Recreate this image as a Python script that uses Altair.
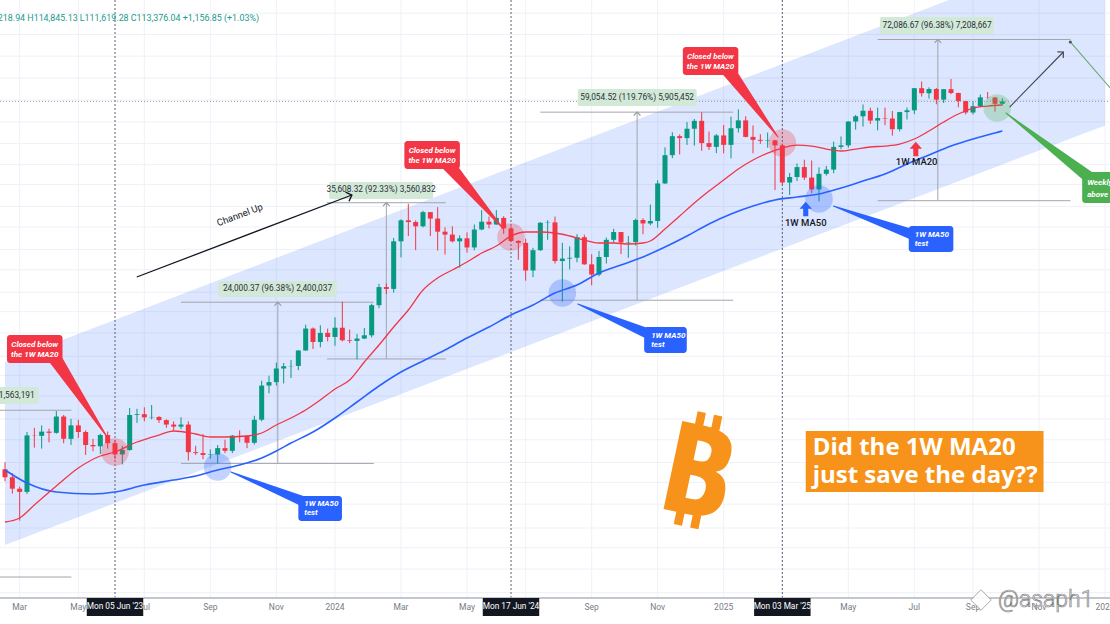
import altair as alt
import pandas as pd

START = pd.Timestamp("2023-02-20")


def wk(w):
    return (START + pd.Timedelta(days=7 * w)).strftime("%Y-%m-%dT%H:%M:%S")


W, H = 1110, 598
UP, DOWN = "#089981", "#f23645"
RED, BLUE, GRN, ORANGE = "#f23645", "#2962ff", "#4caf50", "#f7931a"
FONT = "Roboto"

# ---------------- weekly BTC candles (thousand USD), first week = Mon 20 Feb 2023
opens = [24.3, 23.5, 22.4, 22.1, 28.0, 27.95, 28.45, 28.3, 30.3, 27.6,
         29.2, 28.4, 26.9, 26.75, 28.05, 27.1, 25.85, 26.35, 30.5, 30.6,
         30.2, 30.25, 29.85, 29.3, 29.05, 29.3, 26.1, 26.0, 25.8, 25.85,
         26.55, 26.25, 27.97, 27.95, 27.15, 29.9, 34.5, 35.0, 37.05, 37.4,
         37.45, 39.95, 43.8, 41.4, 43.0,
         42.28, 43.95, 41.7, 41.58, 42.0, 42.58, 48.3, 52.1, 51.7, 63.1,
         68.9, 68.4, 67.2, 71.3, 69.4, 65.7, 64.9, 63.1, 63.9, 61.5,
         66.3, 68.5, 67.7, 69.6, 66.6, 63.2, 62.7, 55.85, 60.8, 68.2,
         68.3, 58.1, 58.7, 58.9, 64.2, 57.3, 54.9, 59.1, 63.5, 65.6,
         62.8, 62.9, 69.0, 68.0, 68.7, 80.4, 90.5, 98.0, 97.2, 101.1,
         104.5, 95.2, 93.7,
         98.3, 94.5, 101.3, 104.7, 97.7, 96.5, 96.1, 96.3, 94.3, 80.7,
         82.6, 86.1, 82.4, 78.4, 83.7, 85.2, 93.7, 94.3, 104.2, 106.5,
         109.0, 104.6, 105.7, 105.5, 100.9, 108.4, 109.2, 119.8, 117.3, 119.4,
         114.2, 119.3, 117.4, 113.5, 108.2, 111.1, 115.3, 115.2, 112.22]
highs = [25.02, 23.9, 22.6, 28.4, 28.9, 29.2, 28.8, 31.0, 30.5, 30.0,
         29.9, 28.6, 27.6, 28.2, 28.45, 27.4, 26.8, 31.4, 31.3, 31.5,
         31.8, 30.35, 29.95, 29.7, 30.2, 29.7, 26.8, 28.15, 26.4, 26.9,
         27.5, 28.05, 28.6, 27.98, 30.4, 35.2, 35.95, 37.98, 37.9, 38.4,
         40.0, 44.5, 44.0, 44.4, 43.8,
         45.9, 49.0, 43.6, 42.8, 43.9, 48.6, 52.8, 52.9, 64.0, 69.2,
         73.8, 68.9, 71.7, 71.3, 72.8, 66.9, 67.2, 64.7, 65.5, 67.7,
         71.9, 70.0, 71.9, 70.1, 67.2, 63.4, 63.8, 61.4, 68.4, 68.9,
         70.0, 62.7, 61.8, 65.0, 64.9, 59.8, 60.6, 64.1, 66.5, 65.6,
         64.5, 69.4, 69.5, 73.6, 81.5, 93.5, 99.6, 98.7, 104.0, 105.3,
         108.3, 99.9, 98.9,
         102.7, 106.4, 109.6, 106.5, 102.5, 98.8, 99.5, 96.5, 95.0, 84.0,
         87.4, 88.8, 88.5, 86.0, 86.5, 95.8, 97.9, 104.3, 107.1, 111.9,
         110.4, 110.4, 110.4, 108.9, 108.5, 110.5, 119.9, 123.2, 120.2, 119.9,
         119.4, 124.5, 117.6, 113.6, 113.4, 116.7, 117.9, 115.5, 114.85]
lows = [23.11, 21.95, 19.6, 21.9, 26.6, 26.5, 27.2, 28.2, 27.1, 26.9,
        27.7, 25.8, 26.2, 25.9, 26.5, 25.35, 24.8, 26.25, 29.5, 29.7,
        29.95, 29.5, 28.9, 28.6, 28.75, 25.2, 25.8, 25.35, 25.4, 24.9,
        26.0, 26.0, 27.2, 26.55, 26.95, 29.7, 33.4, 34.5, 34.8, 35.6,
        36.8, 39.9, 40.2, 40.5, 41.5,
        40.75, 41.5, 41.2, 38.5, 41.9, 42.2, 47.7, 50.6, 50.9, 59.0,
        64.5, 60.8, 66.9, 64.5, 60.7, 59.7, 62.8, 56.5, 60.2, 60.8,
        66.1, 66.6, 67.6, 65.1, 63.0, 58.4, 53.5, 54.3, 60.6, 63.5,
        57.5, 49.0, 56.1, 57.8, 57.2, 52.5, 54.5, 57.5, 62.7, 59.8,
        58.9, 62.0, 65.0, 67.5, 66.8, 80.2, 89.4, 90.8, 94.5, 94.2,
        92.2, 92.5, 91.3,
        91.2, 89.3, 99.5, 97.5, 91.2, 94.9, 93.4, 78.2, 80.0, 76.6,
        81.2, 81.6, 77.2, 74.6, 83.1, 83.9, 92.8, 93.4, 100.7, 102.0,
        103.1, 100.4, 102.6, 98.2, 100.0, 105.1, 107.5, 115.7, 114.7, 112.0,
        112.6, 116.8, 110.6, 107.3, 107.3, 110.6, 114.7, 108.6, 111.62]
closes = [23.5, 22.4, 22.1, 28.0, 27.95, 28.45, 28.3, 30.3, 27.6, 29.2,
          28.4, 26.9, 26.75, 28.05, 27.1, 25.85, 26.35, 30.5, 30.6, 30.2,
          30.25, 29.85, 29.3, 29.05, 29.3, 26.1, 26.0, 25.8, 25.85, 26.55,
          26.25, 27.97, 27.95, 27.15, 29.9, 34.5, 35.0, 37.05, 37.4, 37.45,
          39.95, 43.8, 41.4, 43.0, 42.28,
          43.95, 41.7, 41.58, 42.0, 42.58, 48.3, 52.1, 51.7, 63.1, 68.9,
          68.4, 67.2, 71.3, 69.4, 65.7, 64.9, 63.1, 63.9, 61.5, 66.3,
          68.5, 67.7, 69.6, 66.6, 63.2, 62.7, 55.85, 60.8, 68.2, 68.3,
          58.1, 58.7, 58.9, 64.2, 57.3, 54.9, 59.1, 63.5, 65.6, 62.8,
          62.9, 69.0, 68.0, 68.7, 80.4, 90.5, 98.0, 97.2, 101.1, 104.5,
          95.2, 93.7, 98.3,
          94.5, 101.3, 104.7, 97.7, 96.5, 96.1, 96.3, 94.3, 80.7, 82.6,
          86.1, 82.4, 78.4, 83.7, 85.2, 93.7, 94.3, 104.2, 106.5, 109.0,
          104.6, 105.7, 105.5, 100.9, 108.4, 109.2, 119.8, 117.3, 119.4, 114.2,
          119.3, 117.4, 113.5, 108.2, 111.1, 115.3, 115.2, 112.22, 113.38]

# ---------------- moving averages (week index, USD)
ma20_w = [0, 2, 4, 7, 10, 13, 15, 18, 21, 23, 26, 28, 30, 33, 35, 37, 39, 41, 43, 45,
          47, 49, 51, 53, 55, 57, 59, 61, 63, 65, 67, 69, 71, 73, 75, 77, 79, 81, 83, 85,
          87, 88, 90, 92, 94, 96, 98, 100, 102, 104, 106, 108, 110, 112, 114, 116, 118, 120,
          122, 124, 126, 128, 130, 132, 134, 136]
ma20_v = [19484, 19814, 20921, 22654, 24425, 25685, 26121, 27236, 28046, 28522, 28165, 27813,
          27813, 27930, 28282, 29247, 30117, 31143, 32474, 34003, 35307, 38071, 40879, 44077,
          47331, 51464, 54117, 55961, 57866, 60084, 61869, 64520, 65610, 65610, 65340, 64520,
          63449, 62658, 62658, 62395, 62658, 63185, 66430, 70138, 74076, 77884, 81555, 85398,
          88680, 91320, 93254, 94427, 94038, 92865, 92092, 92865, 93649, 94038, 94829, 96841,
          100140, 103977, 107521, 110252, 111180, 111647]
ma50_w = [0, 3, 7, 12, 15, 19, 23, 26, 29, 32, 35, 37, 39, 42, 45, 48, 51, 54, 57, 60, 63, 66,
          69, 72, 75, 78, 81, 84, 87, 90, 93, 96, 99, 102, 105, 108, 111, 114, 117, 120, 123,
          126, 129, 132, 135, 136]
ma50_v = [24225, 22938, 22090, 21908, 22090, 22747, 23229, 23621, 24225, 24734, 25467, 26225,
          27119, 28397, 30117, 32201, 34430, 36507, 38229, 40029, 42093, 44077, 46351, 48335,
          50824, 52556, 55263, 57146, 59093, 61610, 64520, 67843, 70741, 73154, 75016, 75962,
          76926, 78878, 81225, 83638, 87219, 90572, 94038, 96841, 99302, 100140]

# ---------------- channel (week index, lower / upper USD)
band_w = [0, 150]
band_lo = [17694, 102516]
band_hi = [38071, 222620]

# ---------------- x-axis labels (first weekly bar of the month; two are hidden under date boxes)
lab_w = [2, 10, 19, 28, 37, 45, 54, 63, 80, 89, 98, 115, 124, 132, 141, 150]
lab_t = ["Mar", "May", "Jul", "Sep", "Nov", "2024", "Mar", "May", "Sep", "Nov",
         "2025", "May", "Jul", "Sep", "Nov", "2026"]
grid_w = [2, 10, 19, 28, 37, 45, 54, 63, 71, 80, 89, 98, 106, 115, 124, 132, 141, 150]
grid_p = [14500, 16000, 17500, 19000, 21000, 23000, 25000, 27500, 30000, 33000, 36000, 39000,
          43000, 47000, 51000, 56000, 61000, 67000, 73000, 80000, 87000, 95000, 104000,
          114000, 125000, 137000, 150000, 164000]

cross_w = [15, 69, 106]
cross_t = ["Mon 05 Jun '23", "Mon 17 Jun '24", "Mon 03 Mar '25"]
last_price = 113376.04

# ---------------- price range measurements
meas_lo = [24901, 38560, 49310, 74795, 15476]
meas_hi = [48901, 74168, 108364, 146882, 31108]
meas_w1 = [24.0, 43.9, 73.0, 119.0, -14.0]
meas_w2 = [50.3, 60.1, 99.3, 145.3, 9.05]
meas_wv = [37.2, 52.0, 86.2, 127.2, -6.0]
meas_txt = ["24,000.37 (96.38%) 2,400,037", "35,608.32 (92.33%) 3,560,832",
            "59,054.52 (119.76%) 5,905,452", "72,086.67 (96.38%) 7,208,667",
            "15,631.91 (101.01%) 1,563,191"]
mlab_w1 = [29.05, 44.19, 78.11, 119.3, -22.0]
mlab_w2 = [45.27, 58.38, 94.32, 134.86, 4.6]
mlab_p1 = [49978, 75335, 111180, 150320, 31930]
mlab_p2 = [53441, 80889, 119395, 161394, 34284]
mlab_tw = [37.16, 51.28, 86.2, 127.1, 4.05]
mlab_tp = [51678, 78072, 115218, 155750, 33088]
mlab_al = ["center", "center", "center", "center", "right"]

# ---------------- highlight circles
circ_w = [15, 69, 106, 29, 76, 111, 135.3]
circ_p = [26121, 64251, 95236, 24527, 50824, 75335, 110252]
circ_c = [RED, RED, RED, BLUE, BLUE, BLUE, GRN]

# ---------------- callouts
co_col = [RED, RED, RED, BLUE, BLUE, BLUE, GRN]
co_w1 = [0.27, 54.46, 92.43, 40.0, 87.16, 123.24, 146.89]
co_w2 = [7.84, 62.03, 100.0, 45.95, 92.97, 129.32, 156.0]
co_p1 = [37914, 85398, 126604, 19564, 39535, 60335, 74076]
co_p2 = [42628, 96038, 142346, 21724, 44077, 67274, 84344]
co_l1 = ["Closed below"] * 3 + ["1W MA50"] * 3 + ["Weekly close"]
co_l2 = ["the 1W MA20"] * 3 + ["test"] * 3 + ["above 1W MA20"]
co_tw = [4.05, 58.24, 96.2, 40.81, 88.11, 124.05, 147.57]
co_tp1 = [40879, 92092, 136503, 21009, 42449, 64795, 80549]
co_tp2 = [39207, 88322, 130921, 20231, 40879, 62395, 76603]
wedge_w1 = [6.49, 60.14, 98.38, 30.81, 78.11, 112.97, 136.49]
wedge_p1 = [39207, 87947, 130367, 24022, 48538, 73154, 107977]
wedge_s1 = [14, 14, 14, 1, 1, 1, 1]
wedge_w2 = [13.92, 67.97, 105.41, 41.22, 88.11, 124.32, 147.97]
wedge_p2 = [27813, 66430, 97654, 21097, 42628, 64520, 82255]
wedge_s2 = [0, 0, 0, 11, 11, 11, 12]

# ---------------- other drawings
chan_w = [17.97, 47.30]
chan_p = [54346, 76603]
proj_w = [137.0, 144.32]
proj_p = [110715, 139400]
path_w = [145.27, 152.0]
path_p = [145370, 114539]

# =====================================================================
xsc = alt.Scale(domain=[alt.DateTime(year=2023, month=2, date=20),
                        alt.DateTime(year=2026, month=1, date=5)], nice=False)
ysc = alt.Scale(type="log", domain=[14175, 173300], nice=False)


def X(f="d"):
    return alt.X(f"{f}:T", scale=xsc, axis=None, title=None)


def Y(f="p"):
    return alt.Y(f"{f}:Q", scale=ysc, axis=None, title=None)


CHEV = "M-0.8,0.8L0,0L0.8,0.8"
BLOCK = "M0,-1L0.85,-0.05L0.35,-0.05L0.35,1L-0.35,1L-0.35,-0.05L-0.85,-0.05Z"

cdf = pd.DataFrame({
    "d": [wk(i) for i in range(len(closes))],
    "o": [v * 1000 for v in opens], "h": [v * 1000 for v in highs],
    "l": [v * 1000 for v in lows], "c": [v * 1000 for v in closes],
})
cdf["col"] = [UP if c >= o else DOWN for o, c in zip(cdf["o"], cdf["c"])]

layers = []

# grid
layers.append(alt.Chart(pd.DataFrame({"d": [wk(w) for w in grid_w]})).mark_rule(
    color="#eef1f7", strokeWidth=1).encode(x=X(), y=alt.value(0), y2=alt.value(H)))
layers.append(alt.Chart(pd.DataFrame({"p": grid_p})).mark_rule(
    color="#eef1f7", strokeWidth=1, clip=True).encode(y=Y(), x=alt.value(0), x2=alt.value(W)))

# channel
layers.append(alt.Chart(pd.DataFrame({"d": [wk(w) for w in band_w], "lo": band_lo, "hi": band_hi}))
              .mark_area(color=BLUE, opacity=0.16, clip=True)
              .encode(x=X(), y=Y("lo"), y2=alt.Y2("hi")))

# price range lines
mh = pd.DataFrame({"d1": [wk(w) for w in meas_w1] * 2, "d2": [wk(w) for w in meas_w2] * 2,
                   "p": meas_lo + meas_hi})
layers.append(alt.Chart(mh).mark_rule(color="#a2a5ad", strokeWidth=1, clip=True)
              .encode(x=X("d1"), x2=alt.X2("d2"), y=Y()))
mv = pd.DataFrame({"d": [wk(w) for w in meas_wv], "lo": meas_lo, "hi": meas_hi})
layers.append(alt.Chart(mv).mark_rule(color="#a2a5ad", strokeWidth=1, clip=True)
              .encode(x=X(), y=Y("lo"), y2=alt.Y2("hi")))
layers.append(alt.Chart(mv).mark_point(shape=CHEV, size=70, filled=False, color="#9a9da6",
                                       strokeWidth=1.2, opacity=1, clip=True)
              .encode(x=X(), y=Y("hi")))

# crosshair lines
layers.append(alt.Chart(pd.DataFrame({"d": [wk(w) for w in cross_w]})).mark_rule(
    color="#5d606b", strokeWidth=1, strokeDash=[2, 2]).encode(x=X(), y=alt.value(0), y2=alt.value(H)))
layers.append(alt.Chart(pd.DataFrame({"p": [last_price]})).mark_rule(
    color="#8d9aa6", strokeWidth=1, strokeDash=[1, 2]).encode(y=Y(), x=alt.value(0), x2=alt.value(W)))

# candles
layers.append(alt.Chart(cdf).mark_rule(strokeWidth=1, clip=True).encode(
    x=X(), y=Y("l"), y2=alt.Y2("h"), color=alt.Color("col:N", scale=None)))
layers.append(alt.Chart(cdf).mark_bar(size=5, clip=True).encode(
    x=X(), y=Y("o"), y2=alt.Y2("c"), color=alt.Color("col:N", scale=None)))

# moving averages
layers.append(alt.Chart(pd.DataFrame({"d": [wk(w) for w in ma50_w], "p": ma50_v}))
              .mark_line(color=BLUE, strokeWidth=1.6, interpolate="monotone", clip=True)
              .encode(x=X(), y=Y()))
layers.append(alt.Chart(pd.DataFrame({"d": [wk(w) for w in ma20_w], "p": ma20_v}))
              .mark_line(color=RED, strokeWidth=1.3, interpolate="monotone", clip=True)
              .encode(x=X(), y=Y()))

# circles
layers.append(alt.Chart(pd.DataFrame({"d": [wk(w) for w in circ_w], "p": circ_p, "c": circ_c}))
              .mark_circle(size=760, opacity=0.28, clip=True)
              .encode(x=X(), y=Y(), color=alt.Color("c:N", scale=None)))

# callout pointers
wd = []
for i in range(len(co_col)):
    wd.append({"id": i, "o": 0, "d": wk(wedge_w1[i]), "p": wedge_p1[i], "s": wedge_s1[i], "c": co_col[i]})
    wd.append({"id": i, "o": 1, "d": wk(wedge_w2[i]), "p": wedge_p2[i], "s": wedge_s2[i], "c": co_col[i]})
layers.append(alt.Chart(pd.DataFrame(wd)).mark_trail(clip=True).encode(
    x=X(), y=Y(), size=alt.Size("s:Q", scale=None, legend=None), detail="id:N",
    order="o:Q", color=alt.Color("c:N", scale=None)))

# callout boxes
cb = pd.DataFrame({"d1": [wk(w) for w in co_w1], "d2": [wk(w) for w in co_w2],
                   "p1": co_p1, "p2": co_p2, "c": co_col})
layers.append(alt.Chart(cb).mark_rect(cornerRadius=3, clip=True).encode(
    x=X("d1"), x2=alt.X2("d2"), y=Y("p1"), y2=alt.Y2("p2"), color=alt.Color("c:N", scale=None)))
red_t = pd.DataFrame({"d": [wk(w) for w in co_tw[:3]] * 2, "p": co_tp1[:3] + co_tp2[:3],
                      "t": co_l1[:3] + co_l2[:3]})
layers.append(alt.Chart(red_t).mark_text(color="white", font=FONT, fontSize=8, fontWeight="bold",
                                         fontStyle="italic", align="center", baseline="middle", clip=True)
              .encode(x=X(), y=Y(), text="t:N"))
oth_t = pd.DataFrame({"d": [wk(w) for w in co_tw[3:]] * 2, "p": co_tp1[3:] + co_tp2[3:],
                      "t": co_l1[3:] + co_l2[3:]})
layers.append(alt.Chart(oth_t).mark_text(color="white", font=FONT, fontSize=8, fontWeight="bold",
                                         fontStyle="italic", align="left", baseline="middle", clip=True)
              .encode(x=X(), y=Y(), text="t:N"))

# price range labels
ml = pd.DataFrame({"d1": [wk(w) for w in mlab_w1], "d2": [wk(w) for w in mlab_w2],
                   "p1": mlab_p1, "p2": mlab_p2})
layers.append(alt.Chart(ml).mark_rect(color="#d3e9d8", cornerRadius=2, clip=True).encode(
    x=X("d1"), x2=alt.X2("d2"), y=Y("p1"), y2=alt.Y2("p2")))
mt = pd.DataFrame({"d": [wk(w) for w in mlab_tw], "p": mlab_tp, "t": meas_txt, "a": mlab_al})
layers.append(alt.Chart(mt[mt["a"] == "center"]).mark_text(font=FONT, fontSize=8.3, color="#2a2e39", clip=True)
              .encode(x=X(), y=Y(), text="t:N"))
layers.append(alt.Chart(mt[mt["a"] == "right"]).mark_text(font=FONT, fontSize=8.3, color="#2a2e39",
                                                         align="right", clip=True)
              .encode(x=X(), y=Y(), text="t:N"))

# channel up arrow (drawn over the label box, as in the original)
chan = pd.DataFrame({"d1": [wk(chan_w[0])], "d2": [wk(chan_w[1])], "p1": [chan_p[0]], "p2": [chan_p[1]]})
layers.append(alt.Chart(chan).mark_rule(color="#131722", strokeWidth=1.3).encode(
    x=X("d1"), x2=alt.X2("d2"), y=Y("p1"), y2=alt.Y2("p2")))
layers.append(alt.Chart(pd.DataFrame({"d": [wk(chan_w[1])], "p": [chan_p[1]]})).mark_point(
    shape=CHEV, size=150, angle=69.3, filled=False, color="#131722", strokeWidth=1.4, opacity=1)
    .encode(x=X(), y=Y()))
layers.append(alt.Chart(pd.DataFrame({"d": [wk(32.03)], "p": [70447], "t": ["Channel Up"]}))
              .mark_text(font=FONT, fontSize=9.5, color="#131722", angle=339.3)
              .encode(x=X(), y=Y(), text="t:N"))

# projection arrow and path
proj = pd.DataFrame({"d1": [wk(proj_w[0])], "d2": [wk(proj_w[1])], "p1": [proj_p[0]], "p2": [proj_p[1]]})
layers.append(alt.Chart(proj).mark_rule(color="#43464f", strokeWidth=1.1).encode(
    x=X("d1"), x2=alt.X2("d2"), y=Y("p1"), y2=alt.Y2("p2")))
layers.append(alt.Chart(pd.DataFrame({"d": [wk(proj_w[1])], "p": [proj_p[1]]})).mark_point(
    shape=CHEV, size=110, angle=45.5, filled=False, color="#43464f", strokeWidth=1.2, opacity=1)
    .encode(x=X(), y=Y()))
pth = pd.DataFrame({"d1": [wk(path_w[0])], "d2": [wk(path_w[1])], "p1": [path_p[0]], "p2": [path_p[1]]})
layers.append(alt.Chart(pth).mark_rule(color="#6aa86c", strokeWidth=1.1, clip=True).encode(
    x=X("d1"), x2=alt.X2("d2"), y=Y("p1"), y2=alt.Y2("p2")))
layers.append(alt.Chart(pd.DataFrame({"d": [wk(path_w[0])], "p": [path_p[0]]})).mark_circle(
    size=10, color="#555", opacity=1).encode(x=X(), y=Y()))

# MA labels with arrows
layers.append(alt.Chart(pd.DataFrame({"d": [wk(124.2), wk(109.19)], "p": [92865, 72242],
                                      "c": [RED, BLUE]}))
              .mark_point(shape=BLOCK, size=210, filled=True, opacity=1)
              .encode(x=X(), y=Y(), color=alt.Color("c:N", scale=None)))
layers.append(alt.Chart(pd.DataFrame({"d": [wk(124.32), wk(109.19)], "p": [87947, 68131],
                                      "t": ["1W MA20", "1W MA50"]}))
              .mark_text(font=FONT, fontSize=9.5, fontWeight=500, color="#131722")
              .encode(x=X(), y=Y(), text="t:N"))

# orange question box
layers.append(alt.Chart(pd.DataFrame({"d1": [wk(109.19)], "d2": [wk(141.62)], "p1": [22090], "p2": [28522]}))
              .mark_rect(color=ORANGE).encode(x=X("d1"), x2=alt.X2("d2"), y=Y("p1"), y2=alt.Y2("p2")))
layers.append(alt.Chart(pd.DataFrame({"d": [wk(110.14)] * 2, "p": [26562, 23621],
                                      "t": ["Did the 1W MA20", "just save the day??"]}))
              .mark_text(font="Open Sans", fontSize=24, fontWeight="bold", color="white",
                         align="left", baseline="middle")
              .encode(x=X(), y=Y(), text="t:N"))

# bitcoin logo
layers.append(alt.Chart(pd.DataFrame({"d": [wk(94.19)], "p": [23524], "t": ["\u20bf"]}))
              .mark_text(font="Noto Sans", fontSize=126, fontWeight="bold", color=ORANGE,
                         angle=12, baseline="middle")
              .encode(x=X(), y=Y(), text="t:N"))

# bottom border and x labels
layers.append(alt.Chart(pd.DataFrame({"a": [0]})).mark_rule(color="#b2b5be", strokeWidth=1.5)
              .encode(x=alt.value(0), x2=alt.value(W), y=alt.value(H)))
layers.append(alt.Chart(pd.DataFrame({"d": [wk(w) for w in lab_w], "t": lab_t}))
              .mark_text(font=FONT, fontSize=8.5, color="#787b86", baseline="middle")
              .encode(x=X(), y=alt.value(607), text="t:N"))
cbx = pd.DataFrame({"d1": [wk(w - 3.85) for w in cross_w], "d2": [wk(w + 3.85) for w in cross_w],
                    "d": [wk(w) for w in cross_w], "t": cross_t})
layers.append(alt.Chart(cbx).mark_rect(color="#131722").encode(
    x=X("d1"), x2=alt.X2("d2"), y=alt.value(598), y2=alt.value(616)))
layers.append(alt.Chart(cbx).mark_text(font=FONT, fontSize=8.3, color="white", baseline="middle")
              .encode(x=X(), y=alt.value(607), text="t:N"))

# header legend
layers.append(alt.Chart(pd.DataFrame({"t": ["O112,218.94 H114,845.13 L111,619.28 C113,376.04 +1,156.85 (+1.03%)"]}))
              .mark_text(font=FONT, fontSize=8.9, color="#22998a", align="right", baseline="middle")
              .encode(x=alt.value(259), y=alt.value(18), text="t:N"))

# watermark
layers.append(alt.Chart(pd.DataFrame({"a": [0]})).mark_point(
    shape="diamond", size=420, filled=True, color="white", stroke="#8a8a8a", strokeWidth=0.8, opacity=0.9)
    .encode(x=alt.value(981), y=alt.value(600)))
layers.append(alt.Chart(pd.DataFrame({"t": ["@asaph1"]}))
              .mark_text(font=FONT, fontSize=23, fontWeight=300, color="white", stroke="#808080",
                         strokeWidth=0.7, align="left", baseline="middle")
              .encode(x=alt.value(998), y=alt.value(600), text="t:N"))

chart = alt.layer(*layers).properties(
    width=W, height=H,
    padding={"left": 0, "top": 0, "right": 0, "bottom": 26},
    autosize=alt.AutoSizeParams(type="none"),
    background="white",
).configure_view(strokeWidth=0)

chart.save("out.html", embed_options={"renderer": "svg", "actions": False})
